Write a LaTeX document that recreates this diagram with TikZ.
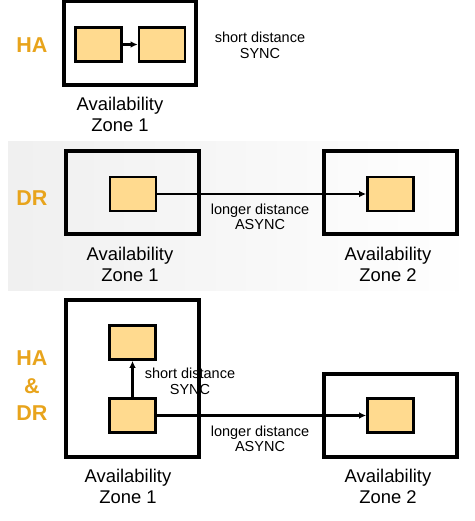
\documentclass[tikz,border=0pt]{standalone}
\usepackage{fontspec}
\setmainfont{Liberation Sans}
\usetikzlibrary{arrows.meta}
\definecolor{boxfill}{HTML}{FFDA8F}
\definecolor{tagorange}{HTML}{E8A41C}
\begin{document}
\begin{tikzpicture}[x=1pt, y=-1pt,
	zone/.style={draw, line width=3.2pt, minimum width=133pt, minimum height=83pt, inner sep=0pt},
	db/.style={draw, line width=2.6pt, fill=boxfill, minimum width=46pt, minimum height=34pt, inner sep=0pt},
	repl/.style={line width=2.2pt, -{Latex[length=7pt,width=6.5pt]}},
	tag/.style={text=tagorange, font=\fontsize{21.5}{27.5}\selectfont\bfseries, align=center},
	zonelabel/.style={font=\fontsize{18.4}{21}\selectfont, align=center},
	dist/.style={font=\fontsize{14.5}{15.6}\selectfont, align=center}]

	\useasboundingbox (0,0) rectangle (474,521);

	% DR band
	\shade[left color=black!6, right color=white] (8,142) rectangle (474,290);

	% HA
	\node[tag] (tagHA) at (32,45) {HA};
	\node[zone, minimum width=132pt, minimum height=84pt] (haZone) at (130,43) {};
	\node[db] (haA) at (98.5,44.5) {};
	\node[db] (haB) at (162,44.5) {};
	\draw[repl] (haA) -- (haB);
	\node[dist] (haSync) at (260,45.5) {short distance\\SYNC};
	\node[zonelabel] (haLabel) at (120,114) {Availability\\Zone 1};

	% DR
	\node[tag] (tagDR) at (32,198) {DR};
	\node[zone] (drZoneA) at (132.5,192.5) {};
	\node[zone] (drZoneB) at (390.5,192.5) {};
	\node[db] (drA) at (133,194) {};
	\node[db] (drB) at (390.5,194) {};
	\draw[repl] (drA) -- (drB);
	\node[dist] (drAsync) at (260,217) {longer distance\\ASYNC};
	\node[zonelabel] (drLabelA) at (130,264) {Availability\\Zone 1};
	\node[zonelabel] (drLabelB) at (388,264) {Availability\\Zone 2};

	% HA & DR
	\node[tag] (tagBoth) at (32,386) {HA\\\&\\DR};
	\node[zone, minimum height=157pt] (bothZoneA) at (132.5,378.5) {};
	\node[zone] (bothZoneB) at (390.5,415.5) {};
	\node[db] (bothTop) at (132.5,342.5) {};
	\node[db] (bothA) at (132.5,415.5) {};
	\node[db] (bothB) at (390.5,415.5) {};
	\draw[repl] (bothA) -- (bothTop);
	\draw[repl] (bothA) -- (bothB);
	\node[dist] (bothSync) at (190,381.5) {short distance\\SYNC};
	\node[dist] (bothAsync) at (260,439) {longer distance\\ASYNC};
	\node[zonelabel] (bothLabelA) at (128,486) {Availability\\Zone 1};
	\node[zonelabel] (bothLabelB) at (388,486) {Availability\\Zone 2};
\end{tikzpicture}
\end{document}
